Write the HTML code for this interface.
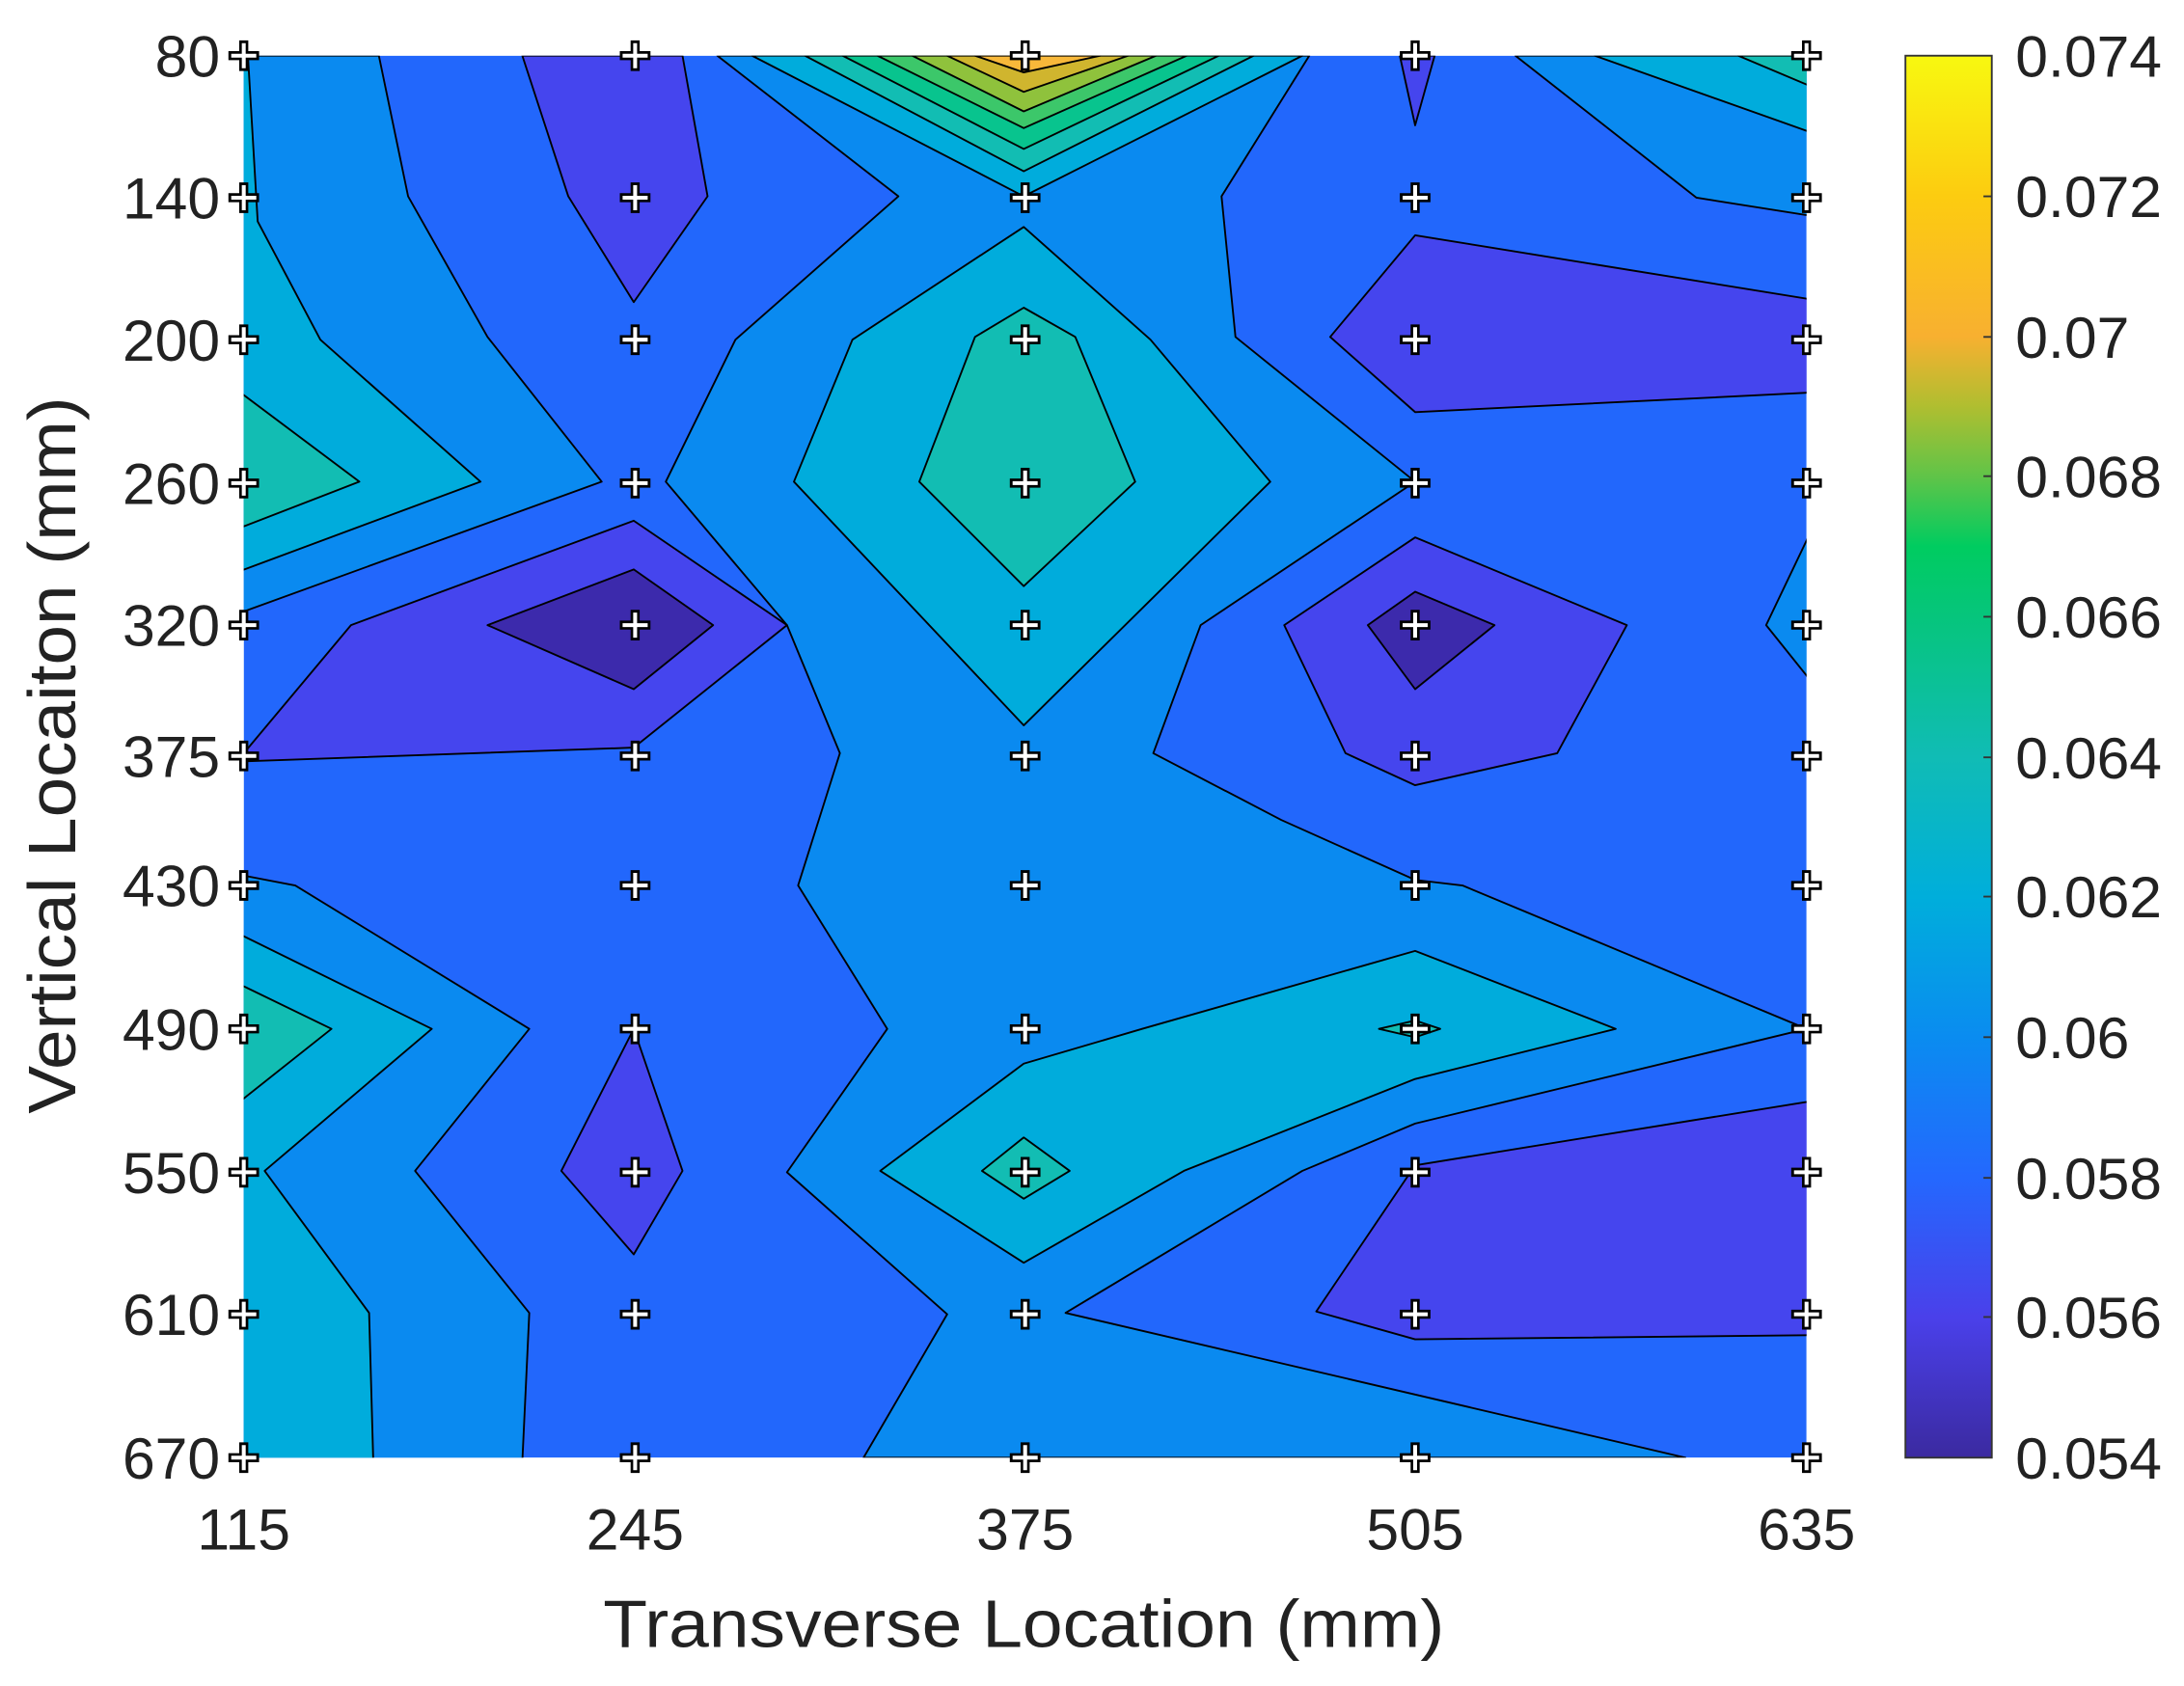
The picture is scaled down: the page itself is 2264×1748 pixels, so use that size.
<!DOCTYPE html>
<html><head><meta charset="utf-8"><style>html,body{margin:0;padding:0;background:#fff}svg{display:block}</style></head>
<body>
<svg width="2264" height="1748" viewBox="0 0 1568 1211" preserveAspectRatio="none" xmlns="http://www.w3.org/2000/svg" font-family="Liberation Sans, Arial, sans-serif">
<defs>
<linearGradient id="cb" x1="0" y1="1" x2="0" y2="0">
<stop offset="0" stop-color="#3b2aa0"/><stop offset="0.1" stop-color="#4a40ea"/><stop offset="0.2" stop-color="#2468fe"/>
<stop offset="0.3" stop-color="#0a8cf0"/><stop offset="0.4" stop-color="#00aedb"/><stop offset="0.5" stop-color="#10bcb5"/>
<stop offset="0.6" stop-color="#06c57c"/><stop offset="0.65" stop-color="#00cc60"/><stop offset="0.7" stop-color="#60c448"/>
<stop offset="0.75" stop-color="#b0be30"/><stop offset="0.8" stop-color="#f8b030"/><stop offset="0.9" stop-color="#fccc10"/><stop offset="1" stop-color="#f8f810"/>
</linearGradient>
<clipPath id="pc"><rect x="175" y="40" width="1122" height="1007"/></clipPath>
</defs>
<g clip-path="url(#pc)" stroke="#000" stroke-width="1.3" stroke-linejoin="round">
<rect x="175" y="40" width="1122" height="1007" fill="#2267fc" stroke="none"/>
<g fill="#0a8af0">
<polygon points="170,40 272,40 293,141 350,242 432,346 170,441"/>
<polygon points="515,40 940,40 877,141 887,242 1016,346 862,449 828,541 920,589 1016,632 1050,636 1297,739 1016,807 935,841 765,943 1210,1047 620,1047 680,944 565,842 637,739 573,636 603,541 565,449 478,346 528,244 645,141"/>
<polygon points="1088,40 1300,40 1300,155 1218,142"/>
<polygon points="1300,382 1268,449 1300,489"/>
<polygon points="170,628 212,636 380,739 298,841 380,943 375,1050 170,1050"/>
</g>
<g fill="#00acdc">
<polygon points="1145,40 1300,40 1300,95"/>
<polygon points="170,40 178,40 185,159 230,244 345,346 170,411"/>
<polygon points="170,670 310,739 190,841 265,943 268,1050 170,1050"/>
<polygon points="735,163 826,244 912,346 735,521 570,346 612,244"/>
<polygon points="632,841 735,764 820,739 1016,683 1160,739 1016,775 850,841 735,907"/>
</g>
<g fill="#12bdb3">
<polygon points="1248,40 1300,40 1300,62"/>
<polygon points="170,280 258,346 170,380"/>
<polygon points="170,706 238,739 170,793"/>
<polygon points="735,221 772,242 815,346 735,421 660,346 700,242"/>
<polygon points="705,841 735,817 768,841 735,861"/>
<polygon points="990,739 1016,733 1034,739 1016,745"/>
</g>
<polygon points="540,40 935,40 735,141" fill="#00acdc"/>
<polygon points="578,40 900,40 735,123" fill="#12bdb3"/>
<polygon points="605,40 875,40 735,107" fill="#08c48e"/>
<polygon points="630,40 852,40 735,92" fill="#3cc76a"/>
<polygon points="655,40 830,40 735,80" fill="#8fc23c"/>
<polygon points="680,40 810,40 735,66" fill="#d0b52e"/>
<polygon points="700,40 790,40 735,52" fill="#f8b83a"/>
<g fill="#4545ee">
<polygon points="375,40 490,40 508,141 455,217 408,141"/>
<polygon points="1005,40 1030,40 1016,90"/>
<polygon points="1016,169 1300,215 1300,282 1016,296 955,242"/>
<polygon points="455,374 565,449 455,537 170,547 252,449"/>
<polygon points="1016,386 1168,449 1118,541 1016,564 966,541 922,449"/>
<polygon points="455,739 490,841 455,901 403,841"/>
<polygon points="1300,791 1016,837 945,942 1016,962 1300,959"/>
</g>
<g fill="#3c2aac">
<polygon points="455,409 512,449 455,495 350,449"/>
<polygon points="1016,425 1073,449 1016,495 982,449"/>
</g>
</g>
<g fill="none" stroke="#000" stroke-width="6.5">
<g id="col"><path d="M164,40h22m-11,-11v22 M164,142h22m-11,-11v22 M164,244h22m-11,-11v22 M164,347h22m-11,-11v22 M164,449h22m-11,-11v22 M164,543h22m-11,-11v22 M164,636h22m-11,-11v22 M164,739h22m-11,-11v22 M164,842h22m-11,-11v22 M164,944h22m-11,-11v22 M164,1047h22m-11,-11v22"/></g>
<use href="#col" x="281"/><use href="#col" x="561"/><use href="#col" x="841"/><use href="#col" x="1122"/>
</g>
<g fill="none" stroke="#fff" stroke-width="2.8">
<g id="colw"><path d="M166,40h18m-9,-9v18 M166,142h18m-9,-9v18 M166,244h18m-9,-9v18 M166,347h18m-9,-9v18 M166,449h18m-9,-9v18 M166,543h18m-9,-9v18 M166,636h18m-9,-9v18 M166,739h18m-9,-9v18 M166,842h18m-9,-9v18 M166,944h18m-9,-9v18 M166,1047h18m-9,-9v18"/></g>
<use href="#colw" x="281"/><use href="#colw" x="561"/><use href="#colw" x="841"/><use href="#colw" x="1122"/>
</g>
<g font-size="42" text-anchor="end" fill="#222">
<text x="158" y="55">80</text><text x="158" y="157">140</text><text x="158" y="259">200</text><text x="158" y="362">260</text>
<text x="158" y="464">320</text><text x="158" y="558">375</text><text x="158" y="651">430</text><text x="158" y="754">490</text>
<text x="158" y="857">550</text><text x="158" y="959">610</text><text x="158" y="1062">670</text>
</g>
<g font-size="42" text-anchor="middle" fill="#222">
<text x="175" y="1113">115</text><text x="456" y="1113">245</text><text x="736" y="1113">375</text><text x="1016" y="1113">505</text><text x="1297" y="1113">635</text>
</g>
<text x="433" y="1183" font-size="48" fill="#222" textLength="604" lengthAdjust="spacingAndGlyphs">Transverse Location (mm)</text>
<text transform="translate(54,800) rotate(-90)" font-size="48" fill="#222" textLength="515" lengthAdjust="spacingAndGlyphs">Vertical Locaiton (mm)</text>
<rect x="1368" y="40" width="62" height="1007" fill="url(#cb)" stroke="#333" stroke-width="1.3"/>
<g stroke="#333" stroke-width="1.3">
<path d="M1424,141h6M1424,242h6M1424,342h6M1424,443h6M1424,544h6M1424,644h6M1424,745h6M1424,846h6M1424,946h6"/>
</g>
<g font-size="42" fill="#222">
<text x="1447" y="55">0.074</text><text x="1447" y="156">0.072</text><text x="1447" y="257">0.07</text>
<text x="1447" y="357">0.068</text><text x="1447" y="458">0.066</text><text x="1447" y="559">0.064</text>
<text x="1447" y="659">0.062</text><text x="1447" y="760">0.06</text><text x="1447" y="861">0.058</text>
<text x="1447" y="961">0.056</text><text x="1447" y="1062">0.054</text>
</g>
</svg>
</body></html>
